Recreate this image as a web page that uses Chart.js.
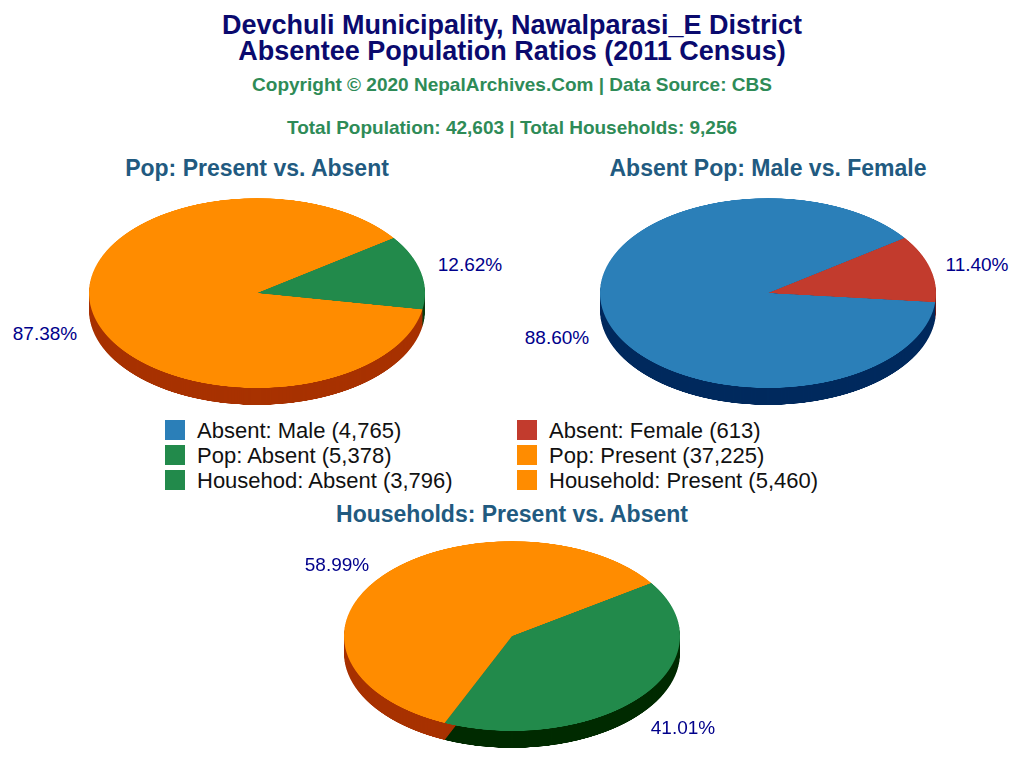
<!DOCTYPE html>
<html><head><meta charset="utf-8">
<script src="https://cdn.jsdelivr.net/npm/chart.js@4/dist/chart.umd.min.js"></script>
<style>
body{margin:0;width:1024px;height:768px;background:#fff;position:relative;overflow:hidden;font-family:"Liberation Sans",Arial,sans-serif}
.t{position:absolute;white-space:nowrap;transform:translate(-50%,-50%);font-weight:bold}
.pct{position:absolute;white-space:nowrap;transform:translate(-50%,-50%);color:#00008B;font-size:19px}
.pie{position:absolute;transform-origin:0 0}
.lg{position:absolute;font-size:22px;color:#111;white-space:nowrap;transform:translateY(-50%)}
.lg span{display:inline-block;width:20px;height:20px;margin-right:12px;vertical-align:-2px}
</style></head><body>
<div class="t" style="left:512px;top:25px;font-size:27px;color:#0a0a6e">Devchuli Municipality, Nawalparasi_E District</div>
<div class="t" style="left:512px;top:51px;font-size:27px;color:#0a0a6e">Absentee Population Ratios (2011 Census)</div>
<div class="t" style="left:512px;top:85px;font-size:19px;color:#2e8b57">Copyright © 2020 NepalArchives.Com | Data Source: CBS</div>
<div class="t" style="left:512px;top:128px;font-size:19px;color:#2e8b57">Total Population: 42,603 | Total Households: 9,256</div>
<div class="t" style="left:257px;top:168px;font-size:23px;color:#215a80">Pop: Present vs. Absent</div>
<div class="t" style="left:768px;top:168px;font-size:23px;color:#215a80">Absent Pop: Male vs. Female</div>
<div class="t" style="left:512px;top:514px;font-size:23px;color:#215a80">Households: Present vs. Absent</div>
<div id="root"></div>
<div id="textos"></div>
<script>
// data
const popLabels = ['Pop: Absent', 'Pop: Present'];
const popValues = [5378, 37225];
const sexLabels = ['Absent: Female', 'Absent: Male'];
const sexValues = [613, 4765];
const hhLabels = ['Househod: Absent', 'Household: Present'];
const hhValues = [3796, 5460];

const SQ = 0.565, R = 168, DEPTH = 17 / SQ;

const depthPlugin = {
    id: 'depth',
    beforeDatasetsDraw(chart) {
        const ctx = chart.ctx;
        const side = chart.options.plugins.depth.colors;
        chart.getDatasetMeta(0).data.forEach((a, i) => {
            ctx.fillStyle = side[i];
            for (let d = DEPTH; d >= 1; d -= 1) {
                ctx.beginPath();
                ctx.moveTo(a.x, a.y + d);
                ctx.arc(a.x, a.y + d, a.outerRadius, a.startAngle, a.endAngle);
                ctx.closePath();
                ctx.fill();
            }
        });
    }
};

function fazerPizza(cx, cy, labels, values, cores, lados, rot) {
    const div = document.createElement('div');
    div.className = 'pie';
    div.style.left = (cx - 170) + 'px';
    div.style.top = (cy - 170 * SQ) + 'px';
    div.style.transform = `scaleY(${SQ})`;
    const cv = document.createElement('canvas');
    cv.width = 340; cv.height = 340 + DEPTH + 4;
    cv.style.width = '340px'; cv.style.height = (340 + DEPTH + 4) + 'px';
    div.appendChild(cv);
    document.getElementById('root').appendChild(div);
    new Chart(cv, {
        type: 'pie',
        data: { labels, datasets: [{ data: values, backgroundColor: cores, borderWidth: 0 }] },
        options: {
            responsive: false, animation: false, devicePixelRatio: 2,
            rotation: rot, radius: R,
            layout: { padding: { bottom: DEPTH + 4 } },
            plugins: { legend: { display: false }, tooltip: { enabled: false }, depth: { colors: lados } }
        },
        plugins: [depthPlugin]
    });
}

const verde = '#228a4b', laranja = '#ff8c00', azul = '#2b7fb8', vermelho = '#c23b2d';
fazerPizza(257, 293, popLabels, popValues, [verde, laranja], ['#0b3d12', '#a83200'], 54.5);
fazerPizza(768, 293, sexLabels, sexValues, [vermelho, azul], ['#7a1a10', '#002a5e'], 54.5);
fazerPizza(512, 636, hhLabels, hhValues, [verde, laranja], ['#002b00', '#a83200'], 56);

const textos = document.getElementById('textos');
function pct(v, arr) { return (v / arr.reduce((a, b) => a + b, 0) * 100).toFixed(2) + '%'; }
const rotulos = [
    [470, 265, pct(popValues[0], popValues)], [45, 334, pct(popValues[1], popValues)],
    [977, 265, pct(sexValues[0], sexValues)], [557, 338, pct(sexValues[1], sexValues)],
    [337, 565, pct(hhValues[1], hhValues)], [683, 728, pct(hhValues[0], hhValues)]
];
rotulos.forEach(([x, y, t]) => {
    textos.insertAdjacentHTML('beforeend', `<div class="pct" style="left:${x}px;top:${y}px">${t}</div>`);
});

const fmt = n => n.toLocaleString('en-US');
const legenda = [
    [165, 431, azul, `${sexLabels[1]} (${fmt(sexValues[1])})`], [517, 431, vermelho, `${sexLabels[0]} (${fmt(sexValues[0])})`],
    [165, 456, verde, `${popLabels[0]} (${fmt(popValues[0])})`], [517, 456, laranja, `${popLabels[1]} (${fmt(popValues[1])})`],
    [165, 481, verde, `${hhLabels[0]} (${fmt(hhValues[0])})`], [517, 481, laranja, `${hhLabels[1]} (${fmt(hhValues[1])})`]
];
legenda.forEach(([x, y, c, t]) => {
    textos.insertAdjacentHTML('beforeend', `<div class="lg" style="left:${x}px;top:${y}px"><span style="background:${c}"></span>${t}</div>`);
});
</script>
</body></html>
